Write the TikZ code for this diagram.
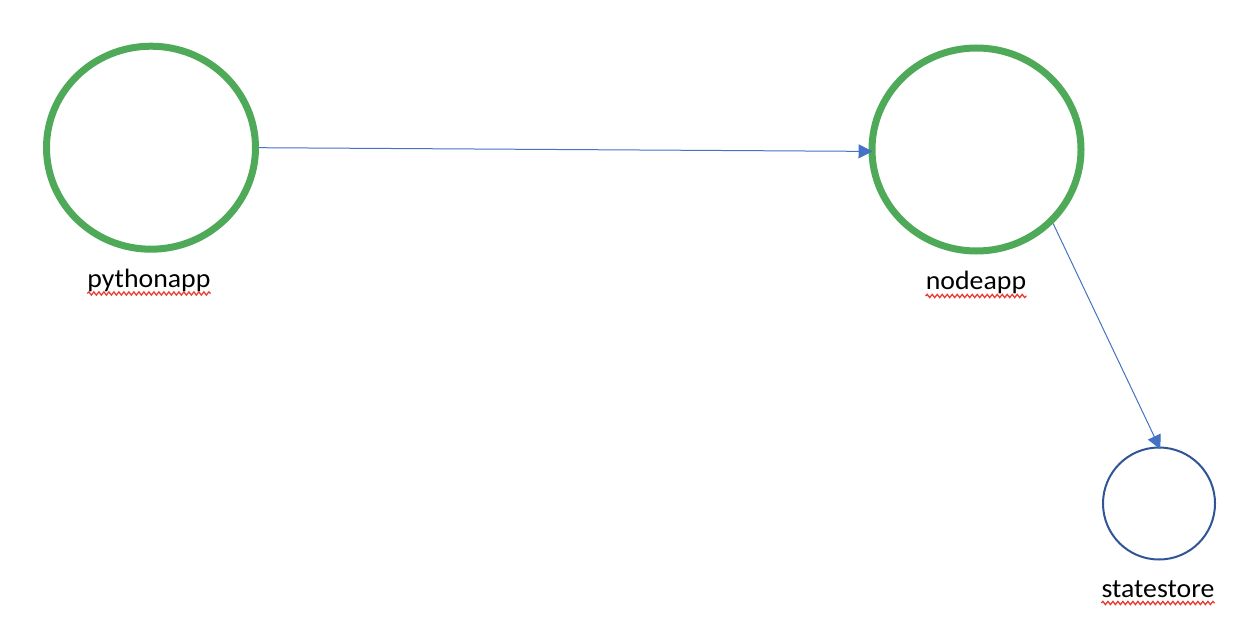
\documentclass[tikz,border=0pt]{standalone}
\usepackage{fontspec}
\setmainfont{Carlito}
\usetikzlibrary{arrows.meta,shapes.geometric,decorations.pathmorphing}
\definecolor{appgreen}{RGB}{78,170,88}
\definecolor{arrowblue}{RGB}{68,114,196}
\definecolor{storeblue}{RGB}{47,85,151}
\definecolor{squigred}{RGB}{232,60,50}
\tikzset{
  appnode/.style={ellipse,draw=appgreen,line width=7pt,minimum width=209pt,minimum height=203pt,inner sep=0pt},
  storenode/.style={circle,draw=storeblue,line width=2pt,minimum size=112pt,inner sep=0pt},
  flow/.style={draw=arrowblue,line width=1pt,-{Triangle[length=14pt,width=14pt]}},
  lbl/.style={anchor=base,inner sep=0pt,font=\fontsize{26.5}{31}\selectfont},
  squiggle/.style={draw=squigred,line width=1.3pt,decorate,decoration={snake,amplitude=1.6pt,segment length=5pt}}
}
\newcommand{\widetext}[1]{\scalebox{1.05}[1]{#1}}
\begin{document}
\begin{tikzpicture}[x=1pt,y=-1pt]
\useasboundingbox (0,0) rectangle (1260,642);
\node[appnode] (python) at (151,147.7) {};
\node[appnode] (nodeapp) at (976.5,149.5) {};
\node[storenode] (store) at (1159,503.5) {};
\node[lbl] (lpython) at (149,287) {\widetext{pythonapp}};
\node[lbl] (lnode) at (976,289) {\widetext{nodeapp}};
\node[lbl] (lstore) at (1158,597.5) {\widetext{statestore}};
\draw[flow,shorten >=-4pt] (python.east) -- (nodeapp.181);
\draw[flow,shorten >=-3pt] (nodeapp.-44) -- (store.north);
\draw[squiggle] ([yshift=-6.5pt]lpython.base west) -- ([yshift=-6.5pt]lpython.base east);
\draw[squiggle] ([yshift=-7pt]lnode.base west) -- ([yshift=-7pt]lnode.base east);
\draw[squiggle] ([yshift=-5.5pt]lstore.base west) -- ([yshift=-5.5pt]lstore.base east);
\end{tikzpicture}
\end{document}
